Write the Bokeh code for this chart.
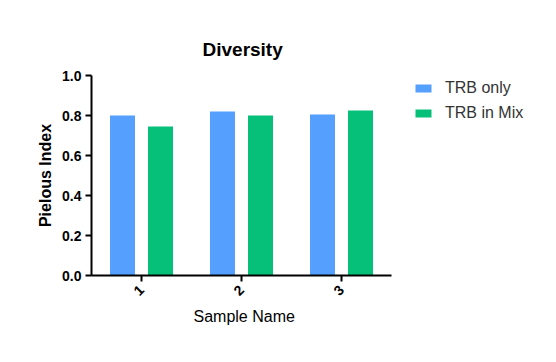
import math
from bokeh.plotting import figure
from bokeh.models import (ColumnDataSource, Range1d, Legend, LegendItem,
                          CustomJSTickFormatter, FixedTicker, Title)
from bokeh.transform import dodge
from bokeh.embed import file_html
from bokeh.resources import INLINE

samples = ["1", "2", "3"]
trb_only = [0.80, 0.82, 0.805]
trb_in_mix = [0.745, 0.80, 0.825]
series_names = ["TRB only", "TRB in Mix"]
colors = ["#559FFF", "#06BF78"]
y_ticks = [0.0, 0.2, 0.4, 0.6, 0.8, 1.0]

pos = list(range(1, len(samples) + 1))
src = ColumnDataSource(dict(x=pos, a=trb_only, b=trb_in_mix))
font = "Liberation Sans"

# frame spans 449px; categories occupy the first 3 units (100px each)
p = figure(width=540, height=346, x_range=Range1d(0.5, 0.5 + 4.49),
           y_range=Range1d(0, 1.0), output_backend="svg", toolbar_location=None,
           title="Diversity", min_border_left=91, min_border_right=0,
           min_border_top=75, min_border_bottom=71)

r1 = p.vbar(x=dodge("x", -0.19), top="a", width=0.25, source=src,
            fill_color=colors[0], line_color=None)
r2 = p.vbar(x=dodge("x", 0.19), top="b", width=0.25, source=src,
            fill_color=colors[1], line_color=None)

p.title.align = "left"
p.title.text_font = font
p.title.text_font_size = "19px"
p.title.text_font_style = "bold"
p.title.text_color = "#000000"
p.title.offset = 111
p.title.standoff = 32

p.outline_line_color = None
p.grid.visible = False
p.background_fill_color = "white"
p.border_fill_color = "white"

p.yaxis.ticker = y_ticks
p.yaxis.formatter = CustomJSTickFormatter(code="return tick.toFixed(1);")
p.xaxis.ticker = FixedTicker(ticks=pos)
p.xaxis.major_label_overrides = {i: s for i, s in zip(pos, samples)}
p.xaxis.bounds = (0.5, 0.5 + len(samples))
for ax in (p.xaxis, p.yaxis):
    ax.axis_line_width = 2
    ax.axis_line_color = "black"
    ax.major_tick_line_width = 2
    ax.major_tick_line_color = "black"
    ax.major_tick_in = 0
    ax.major_tick_out = 6
    ax.minor_tick_line_color = None
    ax.major_label_text_font = font
    ax.major_label_text_font_size = "14px"
    ax.major_label_text_font_style = "bold"
    ax.major_label_text_color = "black"
    ax.axis_label_text_font = font
    ax.axis_label_text_font_size = "16px"
    ax.axis_label_text_color = "black"

p.yaxis.axis_label = "Pielous Index"
p.yaxis.axis_label_text_font_style = "bold"
p.yaxis.major_label_standoff = 4
p.xaxis.major_label_orientation = math.pi / 4
p.xaxis.major_label_standoff = 6

xlab = Title(text="Sample Name", align="left", offset=102, text_font=font,
             text_font_size="16px", text_font_style="normal", text_color="black",
             standoff=4)
p.add_layout(xlab, "below")

legend = Legend(items=[LegendItem(label=series_names[0], renderers=[r1]),
                       LegendItem(label=series_names[1], renderers=[r2])],
                location=(322, 153), glyph_width=20, glyph_height=10,
                label_text_font=font, label_text_font_size="16px",
                label_text_color="#333333", label_standoff=12, spacing=6,
                border_line_color=None, background_fill_alpha=0,
                margin=0, padding=0, label_height=19)
p.add_layout(legend, "center")

open("out.html", "w").write(file_html(p, INLINE))
